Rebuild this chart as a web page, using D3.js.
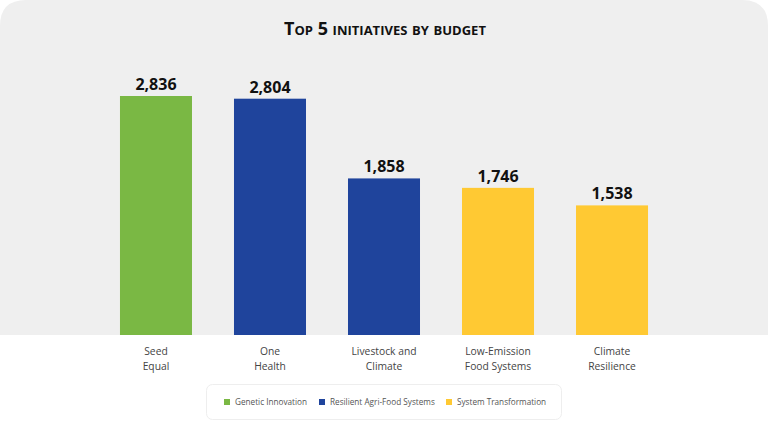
<!DOCTYPE html>
<html>
<head>
<meta charset="utf-8">
<script src="https://cdn.jsdelivr.net/npm/d3@7"></script>
<style>
  body { margin: 0; background: #fff; }
  text { font-family: "Open Sans", sans-serif; }
</style>
</head>
<body>
<div id="chart"></div>
<script>
let categories = [['Seed', 'Equal'], ['One', 'Health'], ['Livestock and', 'Climate'], ['Low-Emission', 'Food Systems'], ['Climate', 'Resilience']];
let budgets = [2836, 2804, 1858, 1746, 1538];
let groups = ['Genetic Innovation', 'Resilient Agri-Food Systems', 'Resilient Agri-Food Systems', 'System Transformation', 'System Transformation'];
let legendGroups = ['Genetic Innovation', 'Resilient Agri-Food Systems', 'System Transformation'];
let groupColors = ['#7ab844', '#1f449c', '#ffc933'];

let width = 768, height = 432;
let baseY = 335;

let svg = d3.select('#chart')
    .append('svg')
    .attr('width', width)
    .attr('height', height);

// grey panel with rounded top corners
let r = 26;
svg.append('path')
    .attr('d', `M0,${baseY} V${r} Q0,0 ${r},0 H${width - r} Q${width},0 ${width},${r} V${baseY} Z`)
    .attr('fill', '#efefef');

svg.append('text')
    .attr('x', width / 2 + 1)
    .attr('y', 35)
    .attr('text-anchor', 'middle')
    .attr('font-size', 18)
    .attr('font-weight', 'bold')
    .style('font-variant', 'small-caps')
    .attr('fill', '#111')
    .text('Top 5 initiatives by budget');

let x = d3.scaleBand()
    .domain(d3.range(budgets.length))
    .range([99, 669])
    .paddingInner(0.3684)
    .paddingOuter(0.184);

let y = d3.scaleLinear()
    .domain([0, 2836])
    .range([baseY, 96]);

let color = d3.scaleOrdinal().domain(legendGroups).range(groupColors);

svg.append('g')
    .selectAll('rect')
    .data(budgets)
    .join('rect')
    .attr('x', (d, i) => x(i))
    .attr('y', d => y(d))
    .attr('width', x.bandwidth())
    .attr('height', d => baseY - y(d))
    .attr('fill', (d, i) => color(groups[i]));

svg.append('g')
    .selectAll('text')
    .data(budgets)
    .join('text')
    .attr('x', (d, i) => x(i) + x.bandwidth() / 2)
    .attr('y', d => y(d) - 6)
    .attr('text-anchor', 'middle')
    .attr('font-size', 16)
    .attr('font-weight', 'bold')
    .attr('fill', '#111')
    .text(d => d3.format(',')(d));

// category labels
let labels = svg.append('g')
    .selectAll('text')
    .data(categories)
    .join('text')
    .attr('x', (d, i) => x(i) + x.bandwidth() / 2)
    .attr('y', 355)
    .attr('text-anchor', 'middle')
    .attr('font-size', 10.3)
    .attr('fill', '#444');

labels.selectAll('tspan')
    .data(d => d)
    .join('tspan')
    .attr('x', function() { return d3.select(this.parentNode).attr('x'); })
    .attr('dy', (d, i) => i === 0 ? 0 : 15)
    .text(d => d);

// legend
svg.append('rect')
    .attr('x', 206.5)
    .attr('y', 384.5)
    .attr('width', 355)
    .attr('height', 35)
    .attr('rx', 6)
    .attr('fill', '#fff')
    .attr('stroke', '#eeeeee');

let legendX = [224, 319, 446];
let legend = svg.append('g')
    .selectAll('g')
    .data(legendGroups)
    .join('g')
    .attr('transform', (d, i) => `translate(${legendX[i]},402)`);

legend.append('rect')
    .attr('x', 0)
    .attr('y', -3)
    .attr('width', 6)
    .attr('height', 6)
    .attr('fill', d => color(d));

legend.append('text')
    .attr('x', 11)
    .attr('y', 3)
    .attr('font-size', 8.2)
    .attr('fill', '#555')
    .text(d => d);
</script>
</body>
</html>
